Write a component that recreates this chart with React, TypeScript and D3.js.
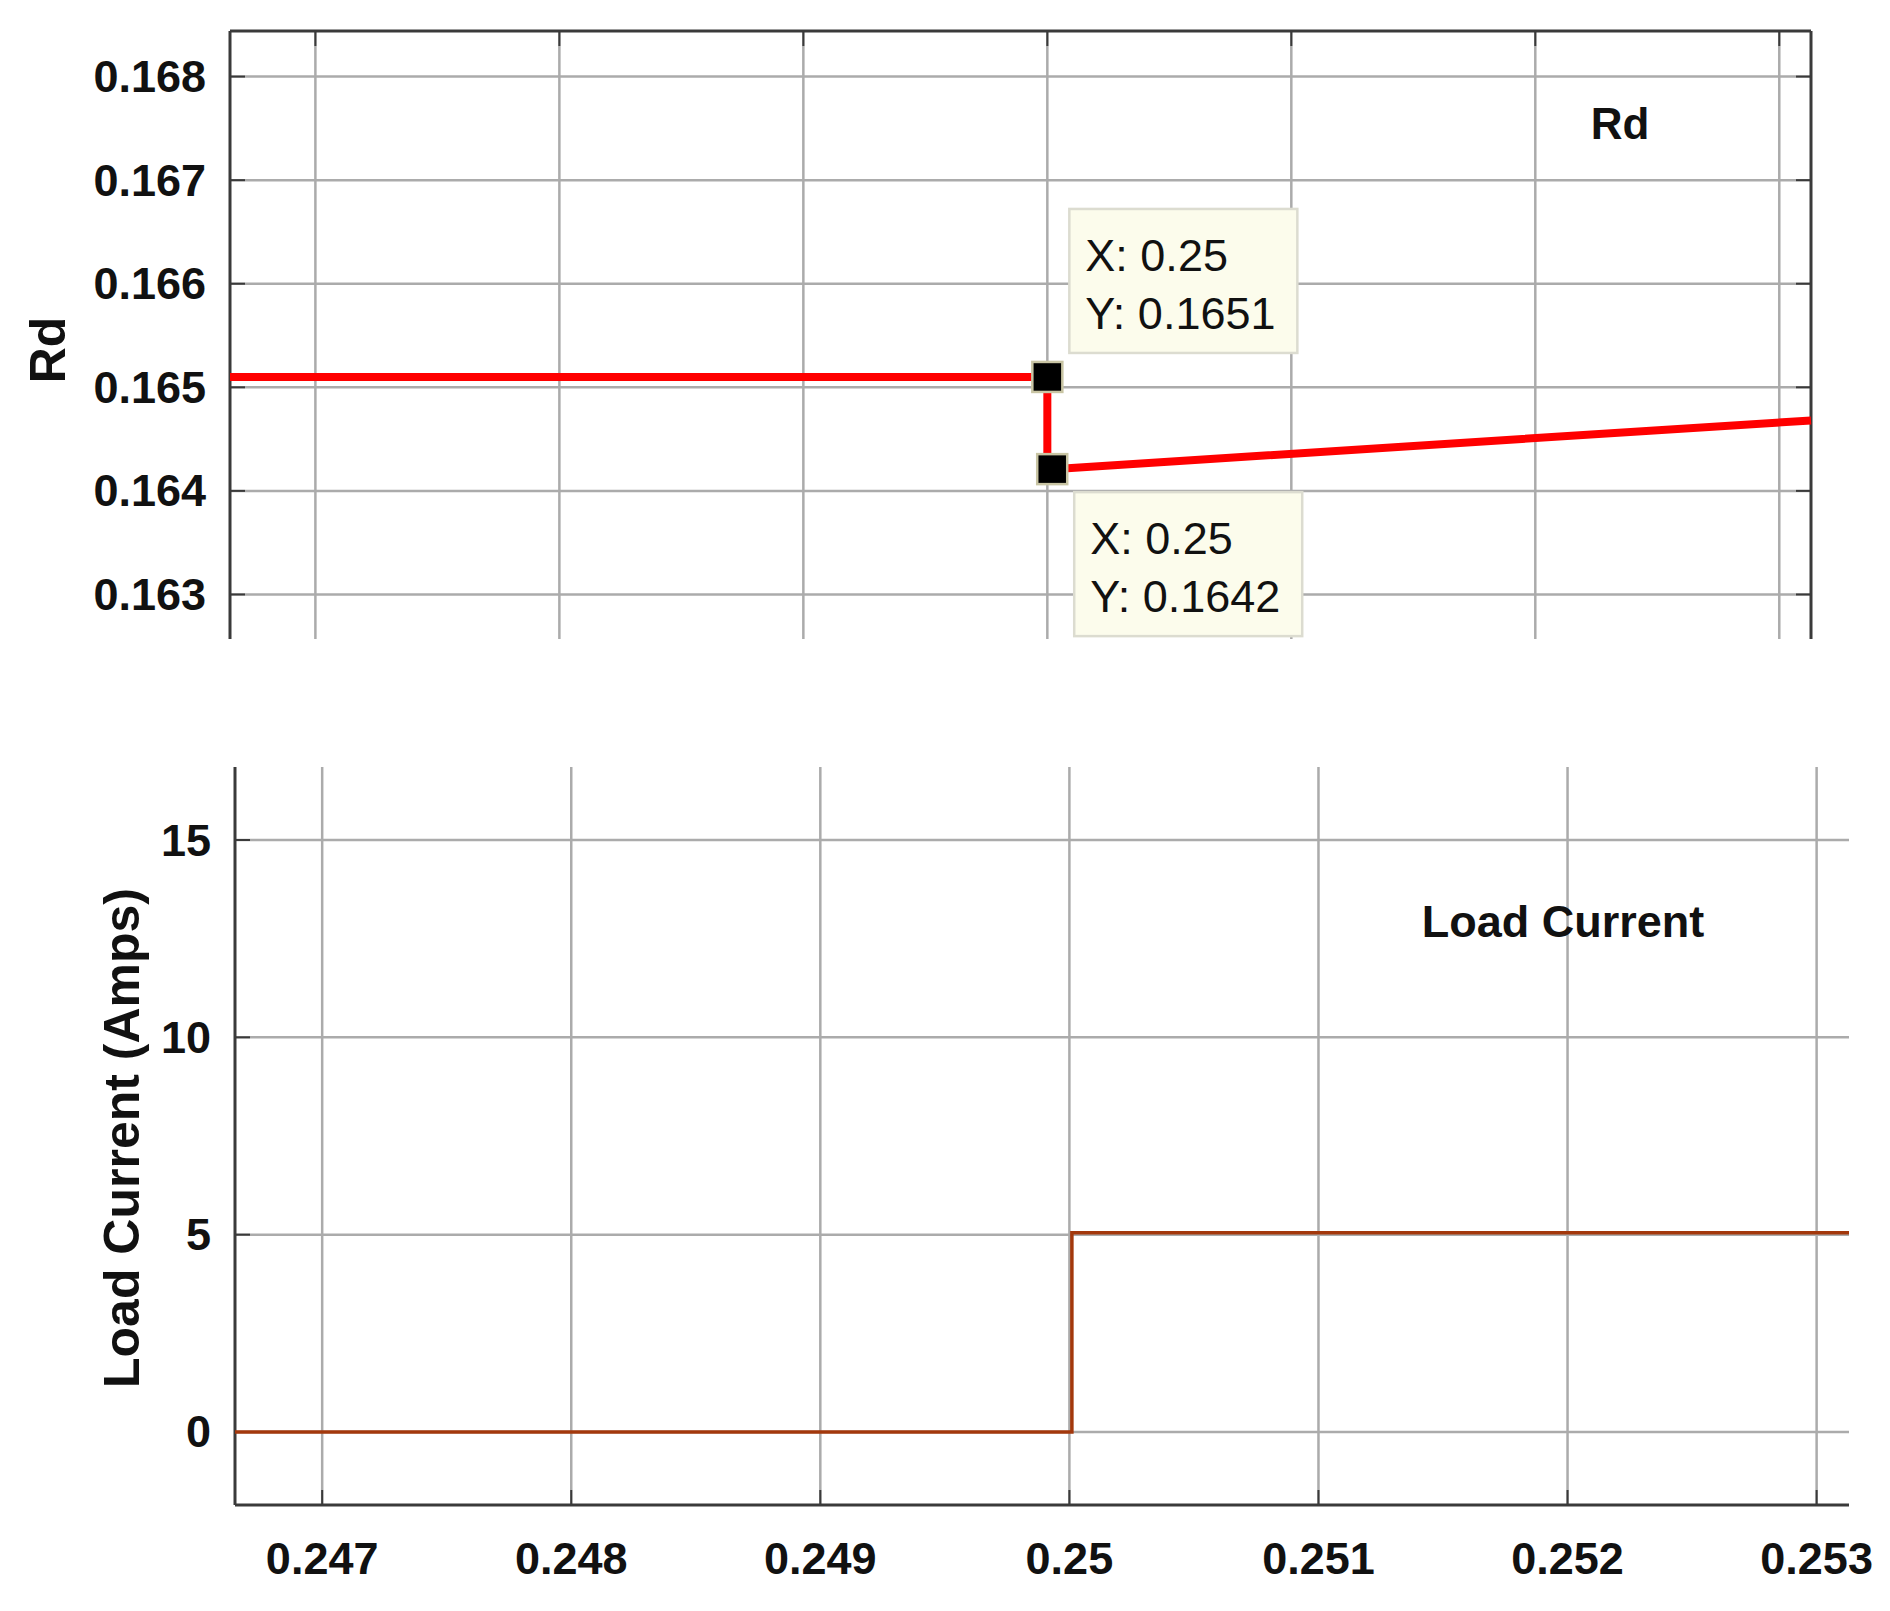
import * as d3 from 'd3';

// Rd trace (upper panel)
const rdTime = [0.24665, 0.25, 0.25, 0.25002, 0.25313];
const rdValue = [0.1651, 0.1651, 0.16421, 0.16421, 0.16468];

// load current trace (lower panel)
const iTime = [0.24665, 0.25001, 0.25001, 0.25313];
const iValue = [0, 0, 5.05, 5.05];

const xTicks = [0.247, 0.248, 0.249, 0.25, 0.251, 0.252, 0.253];
const xTickLabels = ['0.247', '0.248', '0.249', '0.25', '0.251', '0.252', '0.253'];
const rdTicks = [0.163, 0.164, 0.165, 0.166, 0.167, 0.168];
const iTicks = [0, 5, 10, 15];

// data tips
const tipX = [0.25, 0.25002];
const tipY = [0.1651, 0.16421];
const tipLabels = [
  ['X: 0.25', 'Y: 0.1651'],
  ['X: 0.25', 'Y: 0.1642'],
];

const X_DOMAIN = [0.24665, 0.25313];
const RD_DOMAIN = [0.16257, 0.16844];
const I_DOMAIN = [-1.85, 16.85];

const FONT = '"Liberation Sans", Arial, Helvetica, sans-serif';
const AXIS = '#3a3a3a';
const GRID = '#ababab';

export default function App() {
  const W = 1890;
  const H = 1611;

  const top = { x0: 230, x1: 1811, y0: 31, y1: 639 };
  const bot = { x0: 235, x1: 1849, y0: 767, y1: 1505 };

  const xTop = d3.scaleLinear().domain(X_DOMAIN).range([top.x0, top.x1]);
  const yTop = d3.scaleLinear().domain(RD_DOMAIN).range([top.y1, top.y0]);
  const xBot = d3.scaleLinear().domain(X_DOMAIN).range([bot.x0, bot.x1]);
  const yBot = d3.scaleLinear().domain(I_DOMAIN).range([bot.y1, bot.y0]);

  const rdLine = d3
    .line<number>()
    .x((_, i) => xTop(rdTime[i]))
    .y((d) => yTop(d));
  const iLine = d3
    .line<number>()
    .x((_, i) => xBot(iTime[i]))
    .y((d) => yBot(d));

  return (
    <svg
      width={W}
      height={H}
      viewBox={`0 0 ${W} ${H}`}
      style={{ position: 'absolute', left: 0, top: 0, background: '#fff' }}
      fontFamily={FONT}
    >
      {/* ---------- upper panel: Rd ---------- */}
      {xTicks.map((t) => (
        <line key={'tg' + t} x1={xTop(t)} x2={xTop(t)} y1={top.y0} y2={top.y1} stroke={GRID} strokeWidth={2.5} />
      ))}
      {rdTicks.map((t) => (
        <line key={'th' + t} x1={top.x0} x2={top.x1} y1={yTop(t)} y2={yTop(t)} stroke={GRID} strokeWidth={2.5} />
      ))}
      {/* axis frame (top, left, right) */}
      <line x1={top.x0} x2={top.x1} y1={top.y0} y2={top.y0} stroke={AXIS} strokeWidth={3} />
      <line x1={top.x0} x2={top.x0} y1={top.y0} y2={top.y1} stroke={AXIS} strokeWidth={3} />
      <line x1={top.x1} x2={top.x1} y1={top.y0} y2={top.y1} stroke={AXIS} strokeWidth={3} />
      {xTicks.map((t) => (
        <line key={'tt' + t} x1={xTop(t)} x2={xTop(t)} y1={top.y0} y2={top.y0 + 15} stroke={AXIS} strokeWidth={2} />
      ))}
      {rdTicks.map((t) => (
        <g key={'ty' + t}>
          <line x1={top.x0} x2={top.x0 + 15} y1={yTop(t)} y2={yTop(t)} stroke={AXIS} strokeWidth={2} />
          <line x1={top.x1} x2={top.x1 - 15} y1={yTop(t)} y2={yTop(t)} stroke={AXIS} strokeWidth={2} />
          <text
            x={top.x0 - 24}
            y={yTop(t)}
            textAnchor='end'
            dominantBaseline='central'
            fontSize={45}
            fontWeight='bold'
            fill='#111'
          >
            {t.toFixed(3)}
          </text>
        </g>
      ))}
      <text
        transform={`translate(48, 350) rotate(-90)`}
        textAnchor='middle'
        dominantBaseline='central'
        fontSize={50}
        fontWeight='bold'
        fill='#111'
      >
        Rd
      </text>
      <text x={1620} y={139} textAnchor='middle' fontSize={44} fontWeight='bold' fill='#111'>
        Rd
      </text>

      <path d={rdLine(rdValue) ?? ''} fill='none' stroke='#ff0000' strokeWidth={8} strokeLinejoin='miter' />

      {/* data tips */}
      {tipX.map((tx, i) => {
        const cx = xTop(tx);
        const cy = yTop(tipY[i]);
        const bx = cx + 22;
        const by = i === 0 ? cy - 168 : cy + 23;
        return (
          <g key={'tip' + i}>
            <rect x={bx} y={by} width={228} height={144} fill='#fcfcec' stroke='#dcdcd0' strokeWidth={2.5} />
            <text x={bx + 16} y={by + 62} fontSize={45} fill='#111'>
              {tipLabels[i][0]}
            </text>
            <text x={bx + 16} y={by + 120} fontSize={45} fill='#111'>
              {tipLabels[i][1]}
            </text>
            <rect x={cx - 15} y={cy - 15} width={30} height={30} fill='#000' stroke='#c9c5a4' strokeWidth={2.5} />
          </g>
        );
      })}

      {/* ---------- lower panel: Load Current ---------- */}
      {xTicks.map((t) => (
        <line key={'bg' + t} x1={xBot(t)} x2={xBot(t)} y1={bot.y0} y2={bot.y1} stroke={GRID} strokeWidth={2.5} />
      ))}
      {iTicks.map((t) => (
        <line key={'bh' + t} x1={bot.x0} x2={bot.x1} y1={yBot(t)} y2={yBot(t)} stroke={GRID} strokeWidth={2.5} />
      ))}
      <line x1={bot.x0} x2={bot.x1} y1={bot.y1} y2={bot.y1} stroke={AXIS} strokeWidth={3} />
      <line x1={bot.x0} x2={bot.x0} y1={bot.y0} y2={bot.y1} stroke={AXIS} strokeWidth={3} />
      {xTicks.map((t, i) => (
        <g key={'bt' + t}>
          <line x1={xBot(t)} x2={xBot(t)} y1={bot.y1} y2={bot.y1 - 15} stroke={AXIS} strokeWidth={2} />
          <text x={xBot(t)} y={1574} textAnchor='middle' fontSize={45} fontWeight='bold' fill='#111'>
            {xTickLabels[i]}
          </text>
        </g>
      ))}
      {iTicks.map((t) => (
        <g key={'by' + t}>
          <line x1={bot.x0} x2={bot.x0 + 15} y1={yBot(t)} y2={yBot(t)} stroke={AXIS} strokeWidth={2} />
          <text
            x={bot.x0 - 24}
            y={yBot(t)}
            textAnchor='end'
            dominantBaseline='central'
            fontSize={45}
            fontWeight='bold'
            fill='#111'
          >
            {t}
          </text>
        </g>
      ))}
      <text
        transform={`translate(122, 1138) rotate(-90)`}
        textAnchor='middle'
        dominantBaseline='central'
        fontSize={50}
        fontWeight='bold'
        fill='#111'
      >
        Load Current (Amps)
      </text>
      <text x={1563} y={937} textAnchor='middle' fontSize={45} fontWeight='bold' fill='#111'>
        Load Current
      </text>

      <path d={iLine(iValue) ?? ''} fill='none' stroke='#a3380c' strokeWidth={3.5} />
    </svg>
  );
}
